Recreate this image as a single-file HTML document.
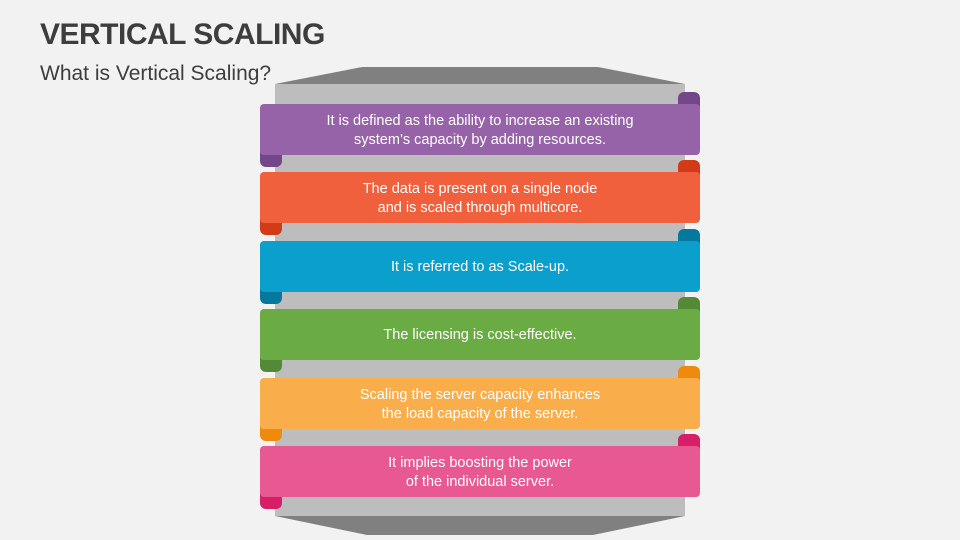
<!DOCTYPE html>
<html><head><meta charset="utf-8"><style>
body{margin:0;background:#f2f2f2;}
#c{position:relative;width:960px;height:540px;overflow:hidden;background:#f2f2f2;font-family:"Liberation Sans",sans-serif;}
.t{position:absolute;left:40px;top:18px;font-size:30px;font-weight:bold;color:#3d3d3d;letter-spacing:-0.5px;}
.s{position:absolute;left:40px;top:62px;font-size:21px;color:#3d3d3d;}
.band{position:absolute;left:260px;width:440px;height:51px;border-radius:4px;color:#fff;font-size:14.5px;line-height:19px;display:flex;align-items:center;justify-content:center;text-align:center;padding-top:2px;box-sizing:border-box;}
.tab{position:absolute;width:22px;height:20px;border-radius:6px;}
</style></head><body><div id="c">
<div class="t">VERTICAL SCALING</div>
<div class="s">What is Vertical Scaling?</div>
<svg style="position:absolute;left:0;top:0" width="960" height="540">
<polygon points="362,67 598,67 685,84 275,84" fill="#808080"/>
<rect x="275" y="84" width="410" height="432" fill="#bdbdbd"/>
<polygon points="275,516 685,516 593,535 367,535" fill="#808080"/>
</svg>
<div class="tab" style="left:678px;top:92px;background:#74478a"></div>
<div class="tab" style="left:260px;top:147px;background:#74478a"></div>
<div class="band" style="top:104px;background:#9763a8">It is defined as the ability to increase an existing<br>system’s capacity by adding resources.</div>
<div class="tab" style="left:678px;top:160px;background:#d33a17"></div>
<div class="tab" style="left:260px;top:215px;background:#d33a17"></div>
<div class="band" style="top:172px;background:#f0603c">The data is present on a single node<br>and is scaled through multicore.</div>
<div class="tab" style="left:678px;top:229px;background:#05789e"></div>
<div class="tab" style="left:260px;top:284px;background:#05789e"></div>
<div class="band" style="top:241px;background:#0a9fcc">It is referred to as Scale-up.</div>
<div class="tab" style="left:678px;top:297px;background:#548a35"></div>
<div class="tab" style="left:260px;top:352px;background:#548a35"></div>
<div class="band" style="top:309px;background:#6aab44">The licensing is cost-effective.</div>
<div class="tab" style="left:678px;top:366px;background:#ee8a0e"></div>
<div class="tab" style="left:260px;top:421px;background:#ee8a0e"></div>
<div class="band" style="top:378px;background:#f9ae4b">Scaling the server capacity enhances<br>the load capacity of the server.</div>
<div class="tab" style="left:678px;top:434px;background:#d61f66"></div>
<div class="tab" style="left:260px;top:489px;background:#d61f66"></div>
<div class="band" style="top:446px;background:#e85891">It implies boosting the power<br>of the individual server.</div>
</div></body></html>
